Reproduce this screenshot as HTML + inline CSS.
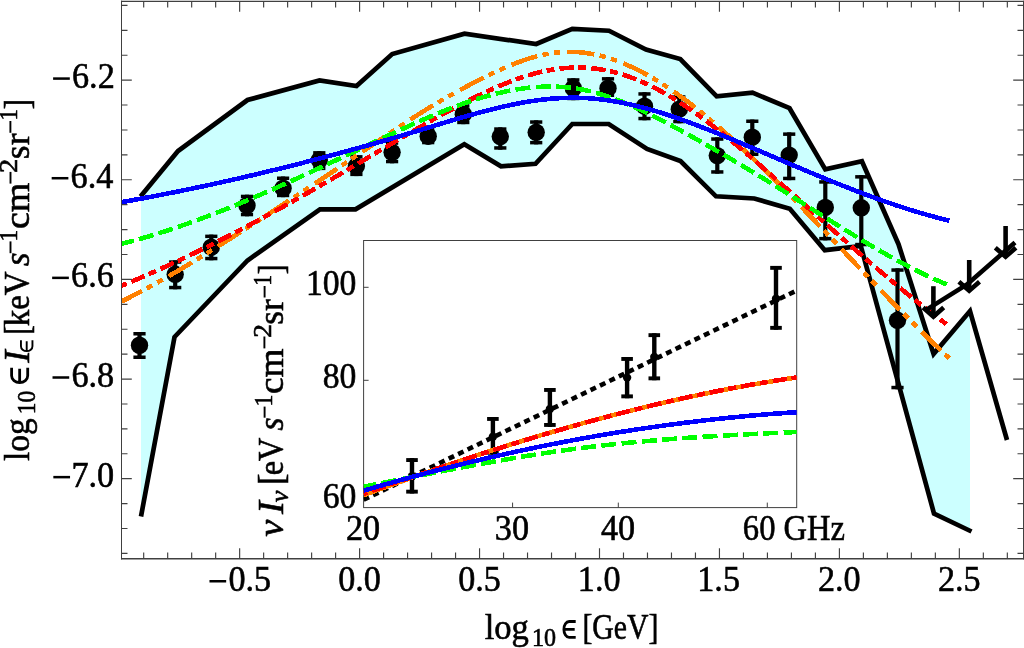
<!DOCTYPE html>
<html><head><meta charset="utf-8"><style>
html,body{margin:0;padding:0;background:#fff;width:1024px;height:648px;overflow:hidden;font-family:"Liberation Serif",serif;}
svg{display:block;will-change:transform;}
</style></head><body>
<svg width="1024" height="648" viewBox="0 0 1024 648"><defs><clipPath id="ic"><rect x="363.6" y="240.5" width="433.1" height="267.1"/></clipPath></defs><rect x="0" y="0" width="1024" height="648" fill="#fff"/>
<polygon points="141.00,195.89 178.00,151.00 247.50,100.00 319.50,80.50 356.50,86.00 392.20,54.00 464.50,33.75 536.20,44.00 572.30,28.90 609.00,30.70 646.00,49.50 680.30,59.00 716.70,96.30 752.50,92.60 789.50,108.20 825.30,169.40 861.90,161.30 898.50,244.20 933.60,354.00 970.00,311.00 970.00,530.78 934.00,513.50 860.80,246.00 824.80,250.20 789.80,208.70 754.30,198.50 716.00,196.30 680.50,161.00 647.00,149.00 608.70,124.00 572.30,124.00 535.50,163.75 501.00,166.30 464.30,144.30 355.50,209.30 320.00,209.30 247.50,260.50 174.50,337.00 141.00,516.50" fill="#ccffff" stroke="none"/>
<polyline points="140.50,196.50 178.00,151.00 247.50,100.00 319.50,80.50 356.50,86.00 392.20,54.00 464.50,33.75 536.20,44.00 572.30,28.90 609.00,30.70 646.00,49.50 680.30,59.00 716.70,96.30 752.50,92.60 789.50,108.20 825.30,169.40 861.90,161.30 898.50,244.20 933.60,354.00 970.00,311.00 1007.00,440.00" fill="none" stroke="#000" stroke-width="4.7" stroke-linejoin="miter"/>
<polyline points="141.00,516.50 174.50,337.00 247.50,260.50 320.00,209.30 355.50,209.30 464.30,144.30 501.00,166.30 535.50,163.75 572.30,124.00 608.70,124.00 647.00,149.00 680.50,161.00 716.00,196.30 754.30,198.50 789.80,208.70 824.80,250.20 860.80,246.00 934.00,513.50 971.50,531.50" fill="none" stroke="#000" stroke-width="4.7" stroke-linejoin="miter"/>
<line x1="139.50" y1="332.00" x2="139.50" y2="359.00" stroke="#000" stroke-width="4.2"/>
<rect x="133.40" y="332.00" width="12.2" height="3.5" fill="#000"/>
<rect x="133.40" y="355.50" width="12.2" height="3.5" fill="#000"/>
<circle cx="139.50" cy="345.25" r="8.7" fill="#000"/>
<line x1="175.20" y1="260.30" x2="175.20" y2="289.30" stroke="#000" stroke-width="4.2"/>
<rect x="169.10" y="260.30" width="12.2" height="3.5" fill="#000"/>
<rect x="169.10" y="285.80" width="12.2" height="3.5" fill="#000"/>
<circle cx="175.20" cy="274.30" r="8.7" fill="#000"/>
<line x1="211.30" y1="234.60" x2="211.30" y2="260.30" stroke="#000" stroke-width="4.2"/>
<rect x="205.20" y="234.60" width="12.2" height="3.5" fill="#000"/>
<rect x="205.20" y="256.80" width="12.2" height="3.5" fill="#000"/>
<circle cx="211.30" cy="247.20" r="8.7" fill="#000"/>
<line x1="247.00" y1="194.70" x2="247.00" y2="216.30" stroke="#000" stroke-width="4.2"/>
<rect x="240.90" y="194.70" width="12.2" height="3.5" fill="#000"/>
<rect x="240.90" y="212.80" width="12.2" height="3.5" fill="#000"/>
<circle cx="247.00" cy="205.50" r="8.7" fill="#000"/>
<line x1="283.10" y1="176.50" x2="283.10" y2="197.20" stroke="#000" stroke-width="4.2"/>
<rect x="277.00" y="176.50" width="12.2" height="3.5" fill="#000"/>
<rect x="277.00" y="193.70" width="12.2" height="3.5" fill="#000"/>
<circle cx="283.10" cy="188.20" r="8.7" fill="#000"/>
<line x1="319.30" y1="151.10" x2="319.30" y2="170.10" stroke="#000" stroke-width="4.2"/>
<rect x="313.20" y="151.10" width="12.2" height="3.5" fill="#000"/>
<rect x="313.20" y="166.60" width="12.2" height="3.5" fill="#000"/>
<circle cx="319.30" cy="160.10" r="8.7" fill="#000"/>
<line x1="356.40" y1="155.10" x2="356.40" y2="176.10" stroke="#000" stroke-width="4.2"/>
<rect x="350.30" y="155.10" width="12.2" height="3.5" fill="#000"/>
<rect x="350.30" y="172.60" width="12.2" height="3.5" fill="#000"/>
<circle cx="356.40" cy="166.10" r="8.7" fill="#000"/>
<line x1="392.10" y1="141.30" x2="392.10" y2="163.30" stroke="#000" stroke-width="4.2"/>
<rect x="386.00" y="141.30" width="12.2" height="3.5" fill="#000"/>
<rect x="386.00" y="159.80" width="12.2" height="3.5" fill="#000"/>
<circle cx="392.10" cy="152.30" r="8.7" fill="#000"/>
<line x1="428.20" y1="128.10" x2="428.20" y2="144.30" stroke="#000" stroke-width="4.2"/>
<rect x="422.10" y="128.10" width="12.2" height="3.5" fill="#000"/>
<rect x="422.10" y="140.80" width="12.2" height="3.5" fill="#000"/>
<circle cx="428.20" cy="136.20" r="8.7" fill="#000"/>
<line x1="463.30" y1="104.20" x2="463.30" y2="124.20" stroke="#000" stroke-width="4.2"/>
<rect x="457.20" y="104.20" width="12.2" height="3.5" fill="#000"/>
<rect x="457.20" y="120.70" width="12.2" height="3.5" fill="#000"/>
<circle cx="463.30" cy="114.20" r="8.7" fill="#000"/>
<line x1="500.30" y1="127.30" x2="500.30" y2="149.70" stroke="#000" stroke-width="4.2"/>
<rect x="494.20" y="127.30" width="12.2" height="3.5" fill="#000"/>
<rect x="494.20" y="146.20" width="12.2" height="3.5" fill="#000"/>
<circle cx="500.30" cy="136.60" r="8.7" fill="#000"/>
<line x1="536.20" y1="120.30" x2="536.20" y2="144.40" stroke="#000" stroke-width="4.2"/>
<rect x="530.10" y="120.30" width="12.2" height="3.5" fill="#000"/>
<rect x="530.10" y="140.90" width="12.2" height="3.5" fill="#000"/>
<circle cx="536.20" cy="132.30" r="8.7" fill="#000"/>
<line x1="573.30" y1="78.20" x2="573.30" y2="100.20" stroke="#000" stroke-width="4.2"/>
<rect x="567.20" y="78.20" width="12.2" height="3.5" fill="#000"/>
<rect x="567.20" y="96.70" width="12.2" height="3.5" fill="#000"/>
<circle cx="573.30" cy="88.20" r="8.7" fill="#000"/>
<line x1="608.00" y1="77.10" x2="608.00" y2="97.00" stroke="#000" stroke-width="4.2"/>
<rect x="601.90" y="77.10" width="12.2" height="3.5" fill="#000"/>
<rect x="601.90" y="93.50" width="12.2" height="3.5" fill="#000"/>
<circle cx="608.00" cy="88.20" r="8.7" fill="#000"/>
<line x1="644.50" y1="92.20" x2="644.50" y2="120.30" stroke="#000" stroke-width="4.2"/>
<rect x="638.40" y="92.20" width="12.2" height="3.5" fill="#000"/>
<rect x="638.40" y="116.80" width="12.2" height="3.5" fill="#000"/>
<circle cx="644.50" cy="106.20" r="8.7" fill="#000"/>
<line x1="679.30" y1="95.20" x2="679.30" y2="123.30" stroke="#000" stroke-width="4.2"/>
<rect x="673.20" y="95.20" width="12.2" height="3.5" fill="#000"/>
<rect x="673.20" y="119.80" width="12.2" height="3.5" fill="#000"/>
<circle cx="679.30" cy="109.20" r="8.7" fill="#000"/>
<line x1="717.30" y1="137.30" x2="717.30" y2="173.70" stroke="#000" stroke-width="4.2"/>
<rect x="711.20" y="137.30" width="12.2" height="3.5" fill="#000"/>
<rect x="711.20" y="170.20" width="12.2" height="3.5" fill="#000"/>
<circle cx="717.30" cy="155.60" r="8.7" fill="#000"/>
<line x1="752.30" y1="119.50" x2="752.30" y2="156.00" stroke="#000" stroke-width="4.2"/>
<rect x="746.20" y="119.50" width="12.2" height="3.5" fill="#000"/>
<rect x="746.20" y="152.50" width="12.2" height="3.5" fill="#000"/>
<circle cx="752.30" cy="137.20" r="8.7" fill="#000"/>
<line x1="789.20" y1="132.40" x2="789.20" y2="180.20" stroke="#000" stroke-width="4.2"/>
<rect x="783.10" y="132.40" width="12.2" height="3.5" fill="#000"/>
<rect x="783.10" y="176.70" width="12.2" height="3.5" fill="#000"/>
<circle cx="789.20" cy="155.10" r="8.7" fill="#000"/>
<line x1="825.30" y1="180.20" x2="825.30" y2="240.40" stroke="#000" stroke-width="4.2"/>
<rect x="819.20" y="180.20" width="12.2" height="3.5" fill="#000"/>
<rect x="819.20" y="236.90" width="12.2" height="3.5" fill="#000"/>
<circle cx="825.30" cy="207.40" r="8.7" fill="#000"/>
<line x1="861.30" y1="175.10" x2="861.30" y2="246.30" stroke="#000" stroke-width="4.2"/>
<rect x="855.20" y="175.10" width="12.2" height="3.5" fill="#000"/>
<rect x="855.20" y="242.80" width="12.2" height="3.5" fill="#000"/>
<circle cx="861.30" cy="207.80" r="8.7" fill="#000"/>
<line x1="897.50" y1="268.30" x2="897.50" y2="389.30" stroke="#000" stroke-width="4.2"/>
<rect x="891.40" y="268.30" width="12.2" height="3.5" fill="#000"/>
<rect x="891.40" y="385.80" width="12.2" height="3.5" fill="#000"/>
<circle cx="897.50" cy="320.30" r="8.7" fill="#000"/>
<polyline points="121.50,301.44 124.96,299.73 128.43,297.99 131.89,296.24 135.36,294.45 138.82,292.64 142.29,290.81 145.75,288.96 149.22,287.09 152.68,285.19 156.14,283.27 159.61,281.33 163.07,279.38 166.54,277.40 170.00,275.41 173.47,273.40 176.93,271.37 180.40,269.33 183.86,267.27 187.32,265.20 190.79,263.12 194.25,261.02 197.72,258.91 201.18,256.78 204.65,254.65 208.11,252.50 211.58,250.35 215.04,248.18 218.50,246.01 221.97,243.83 225.43,241.64 228.90,239.45 232.36,237.25 235.83,235.04 239.29,232.83 242.76,230.62 246.22,228.40 249.68,226.18 253.15,223.95 256.61,221.71 260.08,219.48 263.54,217.23 267.01,214.99 270.47,212.74 273.94,210.48 277.40,208.22 280.86,205.96 284.33,203.69 287.79,201.42 291.26,199.14 294.72,196.86 298.19,194.58 301.65,192.29 305.12,190.00 308.58,187.71 312.04,185.41 315.51,183.11 318.97,180.80 322.44,178.49 325.90,176.18 329.37,173.87 332.83,171.55 336.29,169.23 339.76,166.90 343.22,164.58 346.69,162.25 350.15,159.91 353.62,157.58 357.08,155.24 360.55,152.90 364.01,150.55 367.47,148.21 370.94,145.86 374.40,143.51 377.87,141.16 381.33,138.82 384.80,136.48 388.26,134.15 391.73,131.82 395.19,129.51 398.65,127.21 402.12,124.92 405.58,122.65 409.05,120.40 412.51,118.16 415.98,115.95 419.44,113.76 422.91,111.59 426.37,109.46 429.83,107.34 433.30,105.26 436.76,103.20 440.23,101.17 443.69,99.16 447.16,97.17 450.62,95.21 454.09,93.28 457.55,91.37 461.01,89.48 464.48,87.61 467.94,85.76 471.41,83.93 474.87,82.13 478.34,80.34 481.80,78.58 485.27,76.84 488.73,75.13 492.19,73.45 495.66,71.81 499.12,70.21 502.59,68.65 506.05,67.14 509.52,65.68 512.98,64.27 516.45,62.92 519.91,61.63 523.37,60.41 526.84,59.25 530.30,58.16 533.77,57.14 537.23,56.20 540.70,55.35 544.16,54.58 547.63,53.89 551.09,53.30 554.55,52.80 558.02,52.40 561.48,52.10 564.95,51.91 568.41,51.83 571.88,51.84 575.34,51.96 578.81,52.19 582.27,52.51 585.73,52.93 589.20,53.45 592.66,54.06 596.13,54.76 599.59,55.56 603.06,56.45 606.52,57.42 609.99,58.49 613.45,59.63 616.91,60.87 620.38,62.18 623.84,63.57 627.31,65.04 630.77,66.59 634.24,68.22 637.70,69.92 641.17,71.69 644.63,73.53 648.09,75.44 651.56,77.42 655.02,79.47 658.49,81.58 661.95,83.75 665.42,85.98 668.88,88.27 672.35,90.62 675.81,93.03 679.27,95.50 682.74,98.01 686.20,100.58 689.67,103.21 693.13,105.88 696.60,108.60 700.06,111.37 703.53,114.18 706.99,117.04 710.45,119.94 713.92,122.88 717.38,125.87 720.85,128.89 724.31,131.95 727.78,135.04 731.24,138.18 734.71,141.34 738.17,144.54 741.63,147.77 745.10,151.02 748.56,154.31 752.03,157.62 755.49,160.95 758.96,164.31 762.42,167.70 765.88,171.10 769.35,174.53 772.81,177.97 776.28,181.44 779.74,184.92 783.21,188.42 786.67,191.93 790.14,195.47 793.60,199.01 797.06,202.57 800.53,206.14 803.99,209.72 807.46,213.32 810.92,216.92 814.39,220.53 817.85,224.15 821.32,227.78 824.78,231.42 828.24,235.05 831.71,238.70 835.17,242.34 838.64,245.99 842.10,249.64 845.57,253.29 849.03,256.94 852.50,260.59 855.96,264.24 859.42,267.88 862.89,271.52 866.35,275.16 869.82,278.79 873.28,282.41 876.75,286.02 880.21,289.63 883.68,293.23 887.14,296.81 890.60,300.39 894.07,303.95 897.53,307.50 901.00,311.03 904.46,314.55 907.93,318.06 911.39,321.55 914.86,325.01 918.32,328.47 921.78,331.90 925.25,335.31 928.71,338.70 932.18,342.06 935.64,345.41 939.11,348.73 942.57,352.02 946.04,355.29 949.50,358.53" fill="none" shape-rendering="crispEdges" stroke="#ff8000" stroke-width="4.6" stroke-dasharray="27 5.5 6.3 5.5 6.3 7" stroke-dashoffset="4"/>
<polyline points="121.50,285.74 124.95,284.32 128.40,282.88 131.85,281.43 135.31,279.97 138.76,278.50 142.21,277.01 145.66,275.51 149.11,274.00 152.56,272.47 156.01,270.93 159.47,269.38 162.92,267.82 166.37,266.24 169.82,264.66 173.27,263.06 176.72,261.45 180.17,259.83 183.63,258.19 187.08,256.55 190.53,254.89 193.98,253.23 197.43,251.55 200.88,249.86 204.34,248.16 207.79,246.45 211.24,244.73 214.69,243.00 218.14,241.26 221.59,239.51 225.04,237.74 228.50,235.97 231.95,234.19 235.40,232.40 238.85,230.60 242.30,228.79 245.75,226.97 249.20,225.15 252.66,223.31 256.11,221.46 259.56,219.61 263.01,217.75 266.46,215.87 269.91,213.99 273.36,212.11 276.82,210.21 280.27,208.31 283.72,206.39 287.17,204.47 290.62,202.55 294.07,200.61 297.52,198.67 300.98,196.72 304.43,194.76 307.88,192.80 311.33,190.83 314.78,188.85 318.23,186.87 321.68,184.87 325.14,182.88 328.59,180.87 332.04,178.87 335.49,176.85 338.94,174.83 342.39,172.80 345.85,170.77 349.30,168.73 352.75,166.69 356.20,164.64 359.65,162.60 363.10,160.55 366.55,158.49 370.01,156.44 373.46,154.39 376.91,152.34 380.36,150.29 383.81,148.24 387.26,146.19 390.71,144.15 394.17,142.11 397.62,140.08 401.07,138.05 404.52,136.03 407.97,134.02 411.42,132.01 414.87,130.01 418.33,128.02 421.78,126.04 425.23,124.08 428.68,122.12 432.13,120.17 435.58,118.24 439.03,116.32 442.49,114.41 445.94,112.52 449.39,110.65 452.84,108.79 456.29,106.94 459.74,105.12 463.19,103.31 466.65,101.53 470.10,99.76 473.55,98.02 477.00,96.31 480.45,94.63 483.90,92.97 487.36,91.35 490.81,89.77 494.26,88.22 497.71,86.71 501.16,85.24 504.61,83.82 508.06,82.44 511.52,81.11 514.97,79.83 518.42,78.60 521.87,77.42 525.32,76.30 528.77,75.23 532.22,74.23 535.68,73.29 539.13,72.41 542.58,71.60 546.03,70.85 549.48,70.18 552.93,69.58 556.38,69.05 559.84,68.60 563.29,68.23 566.74,67.93 570.19,67.72 573.64,67.60 577.09,67.55 580.54,67.59 584.00,67.70 587.45,67.90 590.90,68.18 594.35,68.54 597.80,68.99 601.25,69.51 604.71,70.12 608.16,70.81 611.61,71.58 615.06,72.43 618.51,73.37 621.96,74.38 625.41,75.48 628.87,76.65 632.32,77.91 635.77,79.25 639.22,80.67 642.67,82.16 646.12,83.73 649.57,85.36 653.03,87.07 656.48,88.85 659.93,90.70 663.38,92.61 666.83,94.58 670.28,96.62 673.73,98.71 677.19,100.86 680.64,103.07 684.09,105.33 687.54,107.64 690.99,110.00 694.44,112.41 697.89,114.87 701.35,117.38 704.80,119.92 708.25,122.51 711.70,125.14 715.15,127.81 718.60,130.51 722.05,133.25 725.51,136.03 728.96,138.83 732.41,141.66 735.86,144.52 739.31,147.41 742.76,150.32 746.22,153.26 749.67,156.21 753.12,159.19 756.57,162.18 760.02,165.19 763.47,168.22 766.92,171.25 770.38,174.30 773.83,177.35 777.28,180.42 780.73,183.48 784.18,186.56 787.63,189.63 791.08,192.71 794.54,195.80 797.99,198.88 801.44,201.96 804.89,205.05 808.34,208.14 811.79,211.22 815.24,214.30 818.70,217.39 822.15,220.46 825.60,223.54 829.05,226.61 832.50,229.68 835.95,232.74 839.40,235.80 842.86,238.85 846.31,241.89 849.76,244.93 853.21,247.95 856.66,250.97 860.11,253.98 863.56,256.98 867.02,259.97 870.47,262.94 873.92,265.91 877.37,268.86 880.82,271.80 884.27,274.72 887.73,277.63 891.18,280.52 894.63,283.40 898.08,286.26 901.53,289.11 904.98,291.94 908.43,294.74 911.89,297.53 915.34,300.30 918.79,303.05 922.24,305.78 925.69,308.49 929.14,311.17 932.59,313.84 936.05,316.47 939.50,319.09 942.95,321.68 946.40,324.24" fill="none" shape-rendering="crispEdges" stroke="#ff0000" stroke-width="4.6" stroke-dasharray="14.5 4.5 8 5" stroke-dashoffset="21.5"/>
<polyline points="121.50,243.90 124.96,243.01 128.43,242.10 131.89,241.17 135.36,240.21 138.82,239.24 142.29,238.25 145.75,237.24 149.22,236.21 152.68,235.16 156.14,234.09 159.61,233.01 163.07,231.90 166.54,230.78 170.00,229.65 173.47,228.49 176.93,227.32 180.40,226.13 183.86,224.92 187.32,223.70 190.79,222.47 194.25,221.21 197.72,219.95 201.18,218.66 204.65,217.37 208.11,216.06 211.58,214.73 215.04,213.39 218.50,212.04 221.97,210.67 225.43,209.30 228.90,207.91 232.36,206.50 235.83,205.09 239.29,203.66 242.76,202.22 246.22,200.77 249.68,199.31 253.15,197.84 256.61,196.36 260.08,194.87 263.54,193.37 267.01,191.86 270.47,190.34 273.94,188.81 277.40,187.27 280.86,185.72 284.33,184.17 287.79,182.61 291.26,181.04 294.72,179.46 298.19,177.88 301.65,176.29 305.12,174.69 308.58,173.09 312.04,171.49 315.51,169.87 318.97,168.26 322.44,166.63 325.90,165.01 329.37,163.38 332.83,161.75 336.29,160.12 339.76,158.48 343.22,156.84 346.69,155.21 350.15,153.57 353.62,151.93 357.08,150.29 360.55,148.65 364.01,147.01 367.47,145.37 370.94,143.73 374.40,142.10 377.87,140.46 381.33,138.84 384.80,137.21 388.26,135.59 391.73,133.97 395.19,132.35 398.65,130.75 402.12,129.15 405.58,127.56 409.05,125.98 412.51,124.42 415.98,122.86 419.44,121.32 422.91,119.80 426.37,118.29 429.83,116.81 433.30,115.34 436.76,113.89 440.23,112.47 443.69,111.07 447.16,109.69 450.62,108.34 454.09,107.02 457.55,105.73 461.01,104.47 464.48,103.24 467.94,102.04 471.41,100.88 474.87,99.75 478.34,98.66 481.80,97.60 485.27,96.59 488.73,95.62 492.19,94.69 495.66,93.80 499.12,92.96 502.59,92.16 506.05,91.41 509.52,90.71 512.98,90.06 516.45,89.46 519.91,88.92 523.37,88.42 526.84,87.99 530.30,87.61 533.77,87.28 537.23,87.02 540.70,86.82 544.16,86.67 547.63,86.60 551.09,86.58 554.55,86.63 558.02,86.75 561.48,86.94 564.95,87.20 568.41,87.52 571.88,87.92 575.34,88.40 578.81,88.95 582.27,89.57 585.73,90.27 589.20,91.05 592.66,91.91 596.13,92.83 599.59,93.83 603.06,94.89 606.52,96.01 609.99,97.20 613.45,98.45 616.91,99.75 620.38,101.10 623.84,102.50 627.31,103.96 630.77,105.45 634.24,106.99 637.70,108.57 641.17,110.19 644.63,111.84 648.09,113.53 651.56,115.24 655.02,116.98 658.49,118.74 661.95,120.53 665.42,122.33 668.88,124.15 672.35,125.99 675.81,127.85 679.27,129.72 682.74,131.61 686.20,133.51 689.67,135.42 693.13,137.35 696.60,139.28 700.06,141.22 703.53,143.18 706.99,145.14 710.45,147.11 713.92,149.10 717.38,151.09 720.85,153.09 724.31,155.10 727.78,157.13 731.24,159.16 734.71,161.20 738.17,163.25 741.63,165.31 745.10,167.39 748.56,169.47 752.03,171.56 755.49,173.66 758.96,175.77 762.42,177.90 765.88,180.02 769.35,182.16 772.81,184.31 776.28,186.46 779.74,188.63 783.21,190.80 786.67,192.97 790.14,195.15 793.60,197.34 797.06,199.53 800.53,201.73 803.99,203.93 807.46,206.12 810.92,208.32 814.39,210.52 817.85,212.72 821.32,214.91 824.78,217.10 828.24,219.29 831.71,221.47 835.17,223.64 838.64,225.81 842.10,227.97 845.57,230.12 849.03,232.26 852.50,234.39 855.96,236.51 859.42,238.61 862.89,240.70 866.35,242.77 869.82,244.83 873.28,246.88 876.75,248.90 880.21,250.91 883.68,252.89 887.14,254.86 890.60,256.81 894.07,258.73 897.53,260.63 901.00,262.50 904.46,264.35 907.93,266.17 911.39,267.97 914.86,269.74 918.32,271.47 921.78,273.18 925.25,274.86 928.71,276.51 932.18,278.12 935.64,279.70 939.11,281.24 942.57,282.75 946.04,284.22 949.50,285.66" fill="none" shape-rendering="crispEdges" stroke="#00ff00" stroke-width="4.6" stroke-dasharray="15 5.3" stroke-dashoffset="2.2"/>
<polyline points="121.50,202.17 124.96,201.56 128.43,200.94 131.89,200.31 135.36,199.68 138.82,199.04 142.28,198.40 145.75,197.75 149.21,197.10 152.68,196.44 156.14,195.78 159.60,195.11 163.07,194.43 166.53,193.75 170.00,193.07 173.46,192.38 176.92,191.68 180.39,190.98 183.85,190.27 187.32,189.56 190.78,188.84 194.24,188.12 197.71,187.39 201.17,186.66 204.64,185.92 208.10,185.17 211.56,184.42 215.03,183.67 218.49,182.91 221.96,182.14 225.42,181.37 228.88,180.59 232.35,179.81 235.81,179.03 239.28,178.24 242.74,177.44 246.20,176.64 249.67,175.83 253.13,175.02 256.60,174.20 260.06,173.38 263.52,172.55 266.99,171.72 270.45,170.88 273.92,170.04 277.38,169.19 280.84,168.34 284.31,167.48 287.77,166.62 291.24,165.75 294.70,164.88 298.16,164.00 301.63,163.12 305.09,162.23 308.56,161.34 312.02,160.44 315.48,159.54 318.95,158.64 322.41,157.72 325.88,156.81 329.34,155.89 332.81,154.96 336.27,154.03 339.73,153.09 343.20,152.15 346.66,151.21 350.13,150.26 353.59,149.30 357.05,148.34 360.52,147.38 363.98,146.41 367.45,145.44 370.91,144.46 374.37,143.48 377.84,142.49 381.30,141.50 384.77,140.50 388.23,139.50 391.69,138.49 395.16,137.48 398.62,136.47 402.09,135.45 405.55,134.42 409.01,133.39 412.48,132.36 415.94,131.32 419.41,130.28 422.87,129.23 426.33,128.18 429.80,127.13 433.26,126.08 436.73,125.02 440.19,123.97 443.65,122.92 447.12,121.88 450.58,120.84 454.05,119.81 457.51,118.78 460.97,117.77 464.44,116.76 467.90,115.77 471.37,114.79 474.83,113.82 478.29,112.87 481.76,111.94 485.22,111.02 488.69,110.13 492.15,109.25 495.61,108.40 499.08,107.57 502.54,106.76 506.01,105.98 509.47,105.23 512.93,104.50 516.40,103.81 519.86,103.15 523.33,102.51 526.79,101.91 530.25,101.35 533.72,100.82 537.18,100.33 540.65,99.88 544.11,99.47 547.57,99.09 551.04,98.76 554.50,98.48 557.97,98.24 561.43,98.04 564.89,97.90 568.36,97.80 571.82,97.75 575.29,97.75 578.75,97.80 582.21,97.91 585.68,98.07 589.14,98.29 592.61,98.56 596.07,98.87 599.53,99.24 603.00,99.65 606.46,100.11 609.93,100.62 613.39,101.17 616.85,101.77 620.32,102.41 623.78,103.09 627.25,103.81 630.71,104.57 634.17,105.37 637.64,106.21 641.10,107.09 644.57,107.99 648.03,108.94 651.49,109.91 654.96,110.92 658.42,111.96 661.89,113.03 665.35,114.13 668.81,115.25 672.28,116.41 675.74,117.58 679.21,118.79 682.67,120.01 686.13,121.26 689.60,122.53 693.06,123.82 696.53,125.13 699.99,126.45 703.45,127.80 706.92,129.15 710.38,130.53 713.85,131.91 717.31,133.31 720.77,134.73 724.24,136.15 727.70,137.58 731.17,139.02 734.63,140.46 738.09,141.91 741.56,143.37 745.02,144.83 748.49,146.30 751.95,147.76 755.42,149.23 758.88,150.71 762.34,152.18 765.81,153.66 769.27,155.13 772.74,156.61 776.20,158.08 779.66,159.56 783.13,161.03 786.59,162.50 790.06,163.97 793.52,165.44 796.98,166.90 800.45,168.36 803.91,169.82 807.38,171.27 810.84,172.72 814.30,174.16 817.77,175.59 821.23,177.02 824.70,178.44 828.16,179.85 831.62,181.25 835.09,182.65 838.55,184.04 842.02,185.41 845.48,186.78 848.94,188.13 852.41,189.48 855.87,190.81 859.34,192.13 862.80,193.44 866.26,194.74 869.73,196.02 873.19,197.29 876.66,198.54 880.12,199.78 883.58,201.01 887.05,202.21 890.51,203.40 893.98,204.58 897.44,205.73 900.90,206.87 904.37,207.99 907.83,209.09 911.30,210.17 914.76,211.24 918.22,212.28 921.69,213.30 925.15,214.30 928.62,215.27 932.08,216.23 935.54,217.16 939.01,218.07 942.47,218.95 945.94,219.81 949.40,220.65" fill="none" shape-rendering="crispEdges" stroke="#0000ff" stroke-width="4.6"/>
<polyline points="925,310.6 967,284.5 1015,242.4" fill="none" stroke="#000" stroke-width="4.6"/>
<line x1="933.40" y1="286.20" x2="933.40" y2="314.60" stroke="#000" stroke-width="4.6"/>
<polyline points="923.10,307.60 933.40,316.60 943.70,307.60" fill="none" stroke="#000" stroke-width="4.6" stroke-linejoin="miter"/>
<line x1="969.20" y1="260.00" x2="969.20" y2="288.70" stroke="#000" stroke-width="4.6"/>
<polyline points="958.90,281.70 969.20,290.70 979.50,281.70" fill="none" stroke="#000" stroke-width="4.6" stroke-linejoin="miter"/>
<line x1="1005.60" y1="226.00" x2="1005.60" y2="254.70" stroke="#000" stroke-width="4.6"/>
<polyline points="995.30,247.70 1005.60,256.70 1015.90,247.70" fill="none" stroke="#000" stroke-width="4.6" stroke-linejoin="miter"/>
<path d="M121,1.35H1024M121,558.75H1024" stroke="#404040" stroke-width="1.3" fill="none"/>
<path d="M121.5,0.7V559.4M1023.5,0.7V559.4" stroke="#404040" stroke-width="1" fill="none"/>
<path d="M143.69,558.5v-6.0 M143.69,1.5v6.0 M167.68,558.5v-6.0 M167.68,1.5v6.0 M191.67,558.5v-6.0 M191.67,1.5v6.0 M215.66,558.5v-6.0 M215.66,1.5v6.0 M239.65,558.5v-10.3 M239.65,1.5v10.3 M263.64,558.5v-6.0 M263.64,1.5v6.0 M287.63,558.5v-6.0 M287.63,1.5v6.0 M311.62,558.5v-6.0 M311.62,1.5v6.0 M335.61,558.5v-6.0 M335.61,1.5v6.0 M359.60,558.5v-10.3 M359.60,1.5v10.3 M383.59,558.5v-6.0 M383.59,1.5v6.0 M407.58,558.5v-6.0 M407.58,1.5v6.0 M431.57,558.5v-6.0 M431.57,1.5v6.0 M455.56,558.5v-6.0 M455.56,1.5v6.0 M479.55,558.5v-10.3 M479.55,1.5v10.3 M503.54,558.5v-6.0 M503.54,1.5v6.0 M527.53,558.5v-6.0 M527.53,1.5v6.0 M551.52,558.5v-6.0 M551.52,1.5v6.0 M575.51,558.5v-6.0 M575.51,1.5v6.0 M599.50,558.5v-10.3 M599.50,1.5v10.3 M623.49,558.5v-6.0 M623.49,1.5v6.0 M647.48,558.5v-6.0 M647.48,1.5v6.0 M671.47,558.5v-6.0 M671.47,1.5v6.0 M695.46,558.5v-6.0 M695.46,1.5v6.0 M719.45,558.5v-10.3 M719.45,1.5v10.3 M743.44,558.5v-6.0 M743.44,1.5v6.0 M767.43,558.5v-6.0 M767.43,1.5v6.0 M791.42,558.5v-6.0 M791.42,1.5v6.0 M815.41,558.5v-6.0 M815.41,1.5v6.0 M839.40,558.5v-10.3 M839.40,1.5v10.3 M863.39,558.5v-6.0 M863.39,1.5v6.0 M887.38,558.5v-6.0 M887.38,1.5v6.0 M911.37,558.5v-6.0 M911.37,1.5v6.0 M935.36,558.5v-6.0 M935.36,1.5v6.0 M959.35,558.5v-10.3 M959.35,1.5v10.3 M983.34,558.5v-6.0 M983.34,1.5v6.0 M1007.33,558.5v-6.0 M1007.33,1.5v6.0 M121.5,5.40h6.0 M1023.5,5.40h-6.0 M121.5,30.31h6.0 M1023.5,30.31h-6.0 M121.5,55.22h6.0 M1023.5,55.22h-6.0 M121.5,80.13h10.3 M1023.5,80.13h-10.3 M121.5,105.04h6.0 M1023.5,105.04h-6.0 M121.5,129.95h6.0 M1023.5,129.95h-6.0 M121.5,154.86h6.0 M1023.5,154.86h-6.0 M121.5,179.77h10.3 M1023.5,179.77h-10.3 M121.5,204.68h6.0 M1023.5,204.68h-6.0 M121.5,229.59h6.0 M1023.5,229.59h-6.0 M121.5,254.50h6.0 M1023.5,254.50h-6.0 M121.5,279.41h10.3 M1023.5,279.41h-10.3 M121.5,304.32h6.0 M1023.5,304.32h-6.0 M121.5,329.23h6.0 M1023.5,329.23h-6.0 M121.5,354.14h6.0 M1023.5,354.14h-6.0 M121.5,379.05h10.3 M1023.5,379.05h-10.3 M121.5,403.96h6.0 M1023.5,403.96h-6.0 M121.5,428.87h6.0 M1023.5,428.87h-6.0 M121.5,453.78h6.0 M1023.5,453.78h-6.0 M121.5,478.69h10.3 M1023.5,478.69h-10.3 M121.5,503.60h6.0 M1023.5,503.60h-6.0 M121.5,528.51h6.0 M1023.5,528.51h-6.0 M121.5,553.42h6.0 M1023.5,553.42h-6.0" stroke="#404040" stroke-width="1.15" fill="none"/>
<rect x="53.10" y="77.33" width="16.7" height="2.5" fill="#000"/>
<text transform="translate(71.97,88.13) scale(0.9518,1)" font-family="Liberation Serif" font-size="36" stroke="#000" stroke-width="0.6">6.2</text>
<rect x="51.67" y="176.97" width="16.7" height="2.5" fill="#000"/>
<text transform="translate(70.54,187.77) scale(0.9518,1)" font-family="Liberation Serif" font-size="36" stroke="#000" stroke-width="0.6">6.4</text>
<rect x="52.15" y="276.61" width="16.7" height="2.5" fill="#000"/>
<text transform="translate(71.02,287.41) scale(0.9518,1)" font-family="Liberation Serif" font-size="36" stroke="#000" stroke-width="0.6">6.6</text>
<rect x="52.51" y="376.25" width="16.7" height="2.5" fill="#000"/>
<text transform="translate(71.38,387.05) scale(0.9518,1)" font-family="Liberation Serif" font-size="36" stroke="#000" stroke-width="0.6">6.8</text>
<rect x="53.34" y="475.89" width="16.7" height="2.5" fill="#000"/>
<text transform="translate(71.38,486.69) scale(0.9518,1)" font-family="Liberation Serif" font-size="36" stroke="#000" stroke-width="0.6">7.0</text>
<rect x="209.47" y="580.00" width="16.7" height="2.5" fill="#000"/>
<text transform="translate(228.47,590.80) scale(0.9480,1)" font-family="Liberation Serif" font-size="36" stroke="#000" stroke-width="0.6">0.5</text>
<text transform="translate(338.27,590.80) scale(0.9480,1)" font-family="Liberation Serif" font-size="36" stroke="#000" stroke-width="0.6">0.0</text>
<text transform="translate(458.22,590.80) scale(0.9480,1)" font-family="Liberation Serif" font-size="36" stroke="#000" stroke-width="0.6">0.5</text>
<text transform="translate(577.84,590.80) scale(0.9480,1)" font-family="Liberation Serif" font-size="36" stroke="#000" stroke-width="0.6">1.0</text>
<text transform="translate(697.29,590.80) scale(0.9480,1)" font-family="Liberation Serif" font-size="36" stroke="#000" stroke-width="0.6">1.5</text>
<text transform="translate(817.95,590.80) scale(0.9480,1)" font-family="Liberation Serif" font-size="36" stroke="#000" stroke-width="0.6">2.0</text>
<text transform="translate(937.90,590.80) scale(0.9480,1)" font-family="Liberation Serif" font-size="36" stroke="#000" stroke-width="0.6">2.5</text>
<text transform="translate(484.68,639.20) scale(0.9613,1)" font-family="Liberation Serif" font-size="36" stroke="#000" stroke-width="0.6">log</text>
<text transform="translate(532.08,645.50) scale(0.9438,1)" font-family="Liberation Serif" font-size="25.5" stroke="#000" stroke-width="0.6">10</text>
<path d="M575.70,621.50H569.10A5.20 7.90 0 0 0 569.10,637.30H575.70M563.90,629.40H574.70" fill="none" stroke="#000" stroke-width="2.80"/>
<text transform="translate(582.43,639.20) scale(0.8277,1)" font-family="Liberation Serif" font-size="36" stroke="#000" stroke-width="0.6">[GeV]</text>
<text transform="rotate(-90) translate(-460.99,29.00) scale(0.9255,1)" font-family="Liberation Serif" font-size="36" stroke="#000" stroke-width="0.6">log</text>
<text transform="rotate(-90) translate(-414.26,35.20) scale(0.9169,1)" font-family="Liberation Serif" font-size="25.5" stroke="#000" stroke-width="0.6">10</text>
<path d="M-367.80,11.60H-375.85A6.65 8.05 0 0 0 -375.85,27.70H-367.80M-382.50,19.65H-368.80" fill="none" stroke="#000" stroke-width="2.80" transform="rotate(-90)"/>
<text transform="rotate(-90) translate(-362.77,28.60) scale(1.0370,1)" font-family="Liberation Serif" font-size="36" font-style="italic" stroke="#000" stroke-width="0.6">I</text>
<path d="M-340.20,20.95H-346.15A5.00 5.75 0 0 0 -346.15,32.45H-340.20M-351.15,26.70H-341.20" fill="none" stroke="#000" stroke-width="1.90" transform="rotate(-90)"/>
<text transform="rotate(-90) translate(-334.60,29.00) scale(0.7631,1)" font-family="Liberation Serif" font-size="36" stroke="#000" stroke-width="0.6">[</text>
<text transform="rotate(-90) translate(-326.17,29.00) scale(0.9136,1)" font-family="Liberation Serif" font-size="36" stroke="#000" stroke-width="0.6">keV</text>
<text transform="rotate(-90) translate(-265.88,28.60) scale(0.9616,1)" font-family="Liberation Serif" font-size="36" font-style="italic" stroke="#000" stroke-width="0.6">s</text>
<rect x="9.55" y="241.40" width="1.9" height="11.80" fill="#000"/>
<text transform="rotate(-90) translate(-241.59,17.00) scale(0.9352,1)" font-family="Liberation Serif" font-size="25" stroke="#000" stroke-width="0.6">1</text>
<text transform="rotate(-90) translate(-229.05,29.00) scale(1.0516,1)" font-family="Liberation Serif" font-size="36" stroke="#000" stroke-width="0.6">cm</text>
<rect x="9.55" y="171.90" width="1.9" height="11.70" fill="#000"/>
<text transform="rotate(-90) translate(-172.88,17.00) scale(1.1400,1)" font-family="Liberation Serif" font-size="25" stroke="#000" stroke-width="0.6">2</text>
<text transform="rotate(-90) translate(-159.18,29.00) scale(0.9865,1)" font-family="Liberation Serif" font-size="36" stroke="#000" stroke-width="0.6">sr</text>
<rect x="9.45" y="121.00" width="1.9" height="11.80" fill="#000"/>
<text transform="rotate(-90) translate(-120.52,17.00) scale(0.9014,1)" font-family="Liberation Serif" font-size="25" stroke="#000" stroke-width="0.6">1</text>
<text transform="rotate(-90) translate(-109.26,29.00) scale(0.8492,1)" font-family="Liberation Serif" font-size="36" stroke="#000" stroke-width="0.6">]</text>
<rect x="363.6" y="240.5" width="433.1" height="267.1" fill="#fff" stroke="#404040" stroke-width="1"/>
<path d="M512.59,507.60v-5 M618.30,507.60v-5 M767.29,507.60v-5 M363.60,287.30h5 M363.60,380.30h5" stroke="#404040" stroke-width="1" fill="none"/>
<text transform="translate(305.90,295.20) scale(0.9350,1)" font-family="Liberation Serif" font-size="36" stroke="#000" stroke-width="0.6">100</text>
<text transform="translate(322.73,388.20) scale(0.9350,1)" font-family="Liberation Serif" font-size="36" stroke="#000" stroke-width="0.6">80</text>
<text transform="translate(322.73,508.00) scale(0.9350,1)" font-family="Liberation Serif" font-size="36" stroke="#000" stroke-width="0.6">60</text>
<text transform="translate(345.88,540.00) scale(0.9500,1)" font-family="Liberation Serif" font-size="36" stroke="#000" stroke-width="0.6">20</text>
<text transform="translate(494.81,540.00) scale(0.9500,1)" font-family="Liberation Serif" font-size="36" stroke="#000" stroke-width="0.6">30</text>
<text transform="translate(600.99,540.00) scale(0.9500,1)" font-family="Liberation Serif" font-size="36" stroke="#000" stroke-width="0.6">40</text>
<text transform="translate(742.84,540.00) scale(0.9050,1)" font-family="Liberation Serif" font-size="36" stroke="#000" stroke-width="0.6">60 GHz</text>
<text transform="rotate(-90) translate(-536.84,282.80) scale(1.0710,1)" font-family="Liberation Serif" font-size="36" font-style="italic" stroke="#000" stroke-width="0.6">ν</text>
<text transform="rotate(-90) translate(-514.07,282.80) scale(1.0667,1)" font-family="Liberation Serif" font-size="36" font-style="italic" stroke="#000" stroke-width="0.6">I</text>
<text transform="rotate(-90) translate(-502.28,287.90) scale(1.0067,1)" font-family="Liberation Serif" font-size="26" font-style="italic" stroke="#000" stroke-width="0.6">ν</text>
<text transform="rotate(-90) translate(-484.89,282.80) scale(0.9477,1)" font-family="Liberation Serif" font-size="36" stroke="#000" stroke-width="0.6">[</text>
<text transform="rotate(-90) translate(-475.23,282.80) scale(0.8944,1)" font-family="Liberation Serif" font-size="36" stroke="#000" stroke-width="0.6">eV</text>
<text transform="rotate(-90) translate(-430.46,282.70) scale(0.9293,1)" font-family="Liberation Serif" font-size="36" font-style="italic" stroke="#000" stroke-width="0.6">s</text>
<rect x="263.65" y="406.60" width="1.9" height="11.10" fill="#000"/>
<text transform="rotate(-90) translate(-406.54,271.60) scale(0.9577,1)" font-family="Liberation Serif" font-size="25" stroke="#000" stroke-width="0.6">1</text>
<text transform="rotate(-90) translate(-394.02,282.80) scale(1.0350,1)" font-family="Liberation Serif" font-size="36" stroke="#000" stroke-width="0.6">cm</text>
<rect x="263.45" y="336.50" width="1.9" height="11.90" fill="#000"/>
<text transform="rotate(-90) translate(-337.74,271.20) scale(1.1000,1)" font-family="Liberation Serif" font-size="25" stroke="#000" stroke-width="0.6">2</text>
<text transform="rotate(-90) translate(-324.77,282.80) scale(0.9824,1)" font-family="Liberation Serif" font-size="36" stroke="#000" stroke-width="0.6">sr</text>
<rect x="263.65" y="286.00" width="1.9" height="11.50" fill="#000"/>
<text transform="rotate(-90) translate(-285.84,271.20) scale(0.8676,1)" font-family="Liberation Serif" font-size="25" stroke="#000" stroke-width="0.6">1</text>
<text transform="rotate(-90) translate(-274.22,282.80) scale(0.8123,1)" font-family="Liberation Serif" font-size="36" stroke="#000" stroke-width="0.6">]</text>
<g clip-path="url(#ic)">
<line x1="412.00" y1="458.10" x2="412.00" y2="493.60" stroke="#000" stroke-width="4.4"/>
<rect x="406.20" y="458.10" width="11.6" height="3.9" fill="#000"/>
<rect x="406.20" y="489.70" width="11.6" height="3.9" fill="#000"/>
<circle cx="412.00" cy="476.25" r="4.2" fill="#000"/>
<line x1="492.90" y1="417.00" x2="492.90" y2="454.70" stroke="#000" stroke-width="4.4"/>
<rect x="487.10" y="417.00" width="11.6" height="3.9" fill="#000"/>
<rect x="487.10" y="450.80" width="11.6" height="3.9" fill="#000"/>
<circle cx="492.90" cy="436.80" r="4.2" fill="#000"/>
<line x1="549.90" y1="388.00" x2="549.90" y2="426.90" stroke="#000" stroke-width="4.4"/>
<rect x="544.10" y="388.00" width="11.6" height="3.9" fill="#000"/>
<rect x="544.10" y="423.00" width="11.6" height="3.9" fill="#000"/>
<circle cx="549.90" cy="409.00" r="4.2" fill="#000"/>
<line x1="627.10" y1="357.00" x2="627.10" y2="398.30" stroke="#000" stroke-width="4.4"/>
<rect x="621.30" y="357.00" width="11.6" height="3.9" fill="#000"/>
<rect x="621.30" y="394.40" width="11.6" height="3.9" fill="#000"/>
<circle cx="627.10" cy="377.60" r="4.2" fill="#000"/>
<line x1="654.30" y1="333.20" x2="654.30" y2="380.30" stroke="#000" stroke-width="4.4"/>
<rect x="648.50" y="333.20" width="11.6" height="3.9" fill="#000"/>
<rect x="648.50" y="376.40" width="11.6" height="3.9" fill="#000"/>
<circle cx="654.30" cy="357.00" r="4.2" fill="#000"/>
<line x1="776.00" y1="265.90" x2="776.00" y2="329.80" stroke="#000" stroke-width="4.4"/>
<rect x="770.20" y="265.90" width="11.6" height="3.9" fill="#000"/>
<rect x="770.20" y="325.90" width="11.6" height="3.9" fill="#000"/>
<circle cx="776.00" cy="298.70" r="4.2" fill="#000"/>
<line x1="363.6" y1="499.8" x2="796.7" y2="290.5" stroke="#000" stroke-width="4.6" stroke-dasharray="6 4.5"/>
<polyline points="363.60,495.23 365.41,494.55 367.22,493.87 369.04,493.19 370.85,492.51 372.66,491.84 374.47,491.16 376.28,490.49 378.10,489.82 379.91,489.15 381.72,488.48 383.53,487.81 385.35,487.15 387.16,486.48 388.97,485.82 390.78,485.16 392.59,484.50 394.41,483.84 396.22,483.18 398.03,482.52 399.84,481.87 401.65,481.21 403.47,480.56 405.28,479.91 407.09,479.26 408.90,478.61 410.72,477.96 412.53,477.32 414.34,476.67 416.15,476.03 417.96,475.39 419.78,474.75 421.59,474.11 423.40,473.47 425.21,472.83 427.02,472.20 428.84,471.56 430.65,470.93 432.46,470.30 434.27,469.67 436.09,469.04 437.90,468.42 439.71,467.79 441.52,467.17 443.33,466.55 445.15,465.92 446.96,465.31 448.77,464.69 450.58,464.07 452.39,463.46 454.21,462.84 456.02,462.23 457.83,461.62 459.64,461.01 461.46,460.40 463.27,459.80 465.08,459.19 466.89,458.59 468.70,457.99 470.52,457.39 472.33,456.79 474.14,456.19 475.95,455.60 477.76,455.00 479.58,454.41 481.39,453.82 483.20,453.23 485.01,452.64 486.83,452.05 488.64,451.47 490.45,450.88 492.26,450.30 494.07,449.72 495.89,449.14 497.70,448.57 499.51,447.99 501.32,447.42 503.13,446.84 504.95,446.27 506.76,445.70 508.57,445.13 510.38,444.57 512.19,444.00 514.01,443.44 515.82,442.88 517.63,442.32 519.44,441.76 521.26,441.20 523.07,440.65 524.88,440.09 526.69,439.54 528.50,438.99 530.32,438.44 532.13,437.89 533.94,437.35 535.75,436.80 537.56,436.26 539.38,435.72 541.19,435.18 543.00,434.64 544.81,434.11 546.63,433.57 548.44,433.04 550.25,432.51 552.06,431.98 553.87,431.45 555.69,430.93 557.50,430.40 559.31,429.88 561.12,429.36 562.93,428.84 564.75,428.33 566.56,427.81 568.37,427.30 570.18,426.78 572.00,426.27 573.81,425.76 575.62,425.26 577.43,424.75 579.24,424.25 581.06,423.75 582.87,423.24 584.68,422.75 586.49,422.25 588.30,421.75 590.12,421.26 591.93,420.77 593.74,420.28 595.55,419.79 597.37,419.31 599.18,418.82 600.99,418.34 602.80,417.86 604.61,417.38 606.43,416.90 608.24,416.42 610.05,415.95 611.86,415.48 613.67,415.01 615.49,414.54 617.30,414.07 619.11,413.61 620.92,413.14 622.74,412.68 624.55,412.22 626.36,411.77 628.17,411.31 629.98,410.86 631.80,410.40 633.61,409.95 635.42,409.51 637.23,409.06 639.04,408.61 640.86,408.17 642.67,407.73 644.48,407.29 646.29,406.85 648.11,406.42 649.92,405.98 651.73,405.55 653.54,405.12 655.35,404.70 657.17,404.27 658.98,403.84 660.79,403.42 662.60,403.00 664.41,402.58 666.23,402.17 668.04,401.75 669.85,401.34 671.66,400.93 673.47,400.52 675.29,400.11 677.10,399.71 678.91,399.30 680.72,398.90 682.54,398.50 684.35,398.11 686.16,397.71 687.97,397.32 689.78,396.93 691.60,396.54 693.41,396.15 695.22,395.76 697.03,395.38 698.84,395.00 700.66,394.62 702.47,394.24 704.28,393.87 706.09,393.49 707.91,393.12 709.72,392.75 711.53,392.38 713.34,392.02 715.15,391.65 716.97,391.29 718.78,390.93 720.59,390.57 722.40,390.22 724.21,389.86 726.03,389.51 727.84,389.16 729.65,388.82 731.46,388.47 733.28,388.13 735.09,387.79 736.90,387.45 738.71,387.11 740.52,386.77 742.34,386.44 744.15,386.11 745.96,385.78 747.77,385.45 749.58,385.13 751.40,384.81 753.21,384.49 755.02,384.17 756.83,383.85 758.65,383.54 760.46,383.22 762.27,382.91 764.08,382.61 765.89,382.30 767.71,382.00 769.52,381.70 771.33,381.40 773.14,381.10 774.95,380.80 776.77,380.51 778.58,380.22 780.39,379.93 782.20,379.64 784.02,379.36 785.83,379.08 787.64,378.80 789.45,378.52 791.26,378.24 793.08,377.97 794.89,377.70 796.70,377.43" fill="none" shape-rendering="crispEdges" stroke="#ff8000" stroke-width="4.6"/>
<polyline points="363.60,493.81 365.41,493.17 367.22,492.53 369.04,491.89 370.85,491.25 372.66,490.62 374.47,489.98 376.28,489.34 378.10,488.71 379.91,488.08 381.72,487.44 383.53,486.81 385.35,486.18 387.16,485.55 388.97,484.92 390.78,484.29 392.59,483.66 394.41,483.03 396.22,482.40 398.03,481.77 399.84,481.15 401.65,480.52 403.47,479.90 405.28,479.27 407.09,478.65 408.90,478.03 410.72,477.41 412.53,476.79 414.34,476.17 416.15,475.55 417.96,474.93 419.78,474.31 421.59,473.70 423.40,473.08 425.21,472.47 427.02,471.85 428.84,471.24 430.65,470.63 432.46,470.02 434.27,469.41 436.09,468.80 437.90,468.19 439.71,467.59 441.52,466.98 443.33,466.38 445.15,465.77 446.96,465.17 448.77,464.57 450.58,463.97 452.39,463.37 454.21,462.77 456.02,462.17 457.83,461.57 459.64,460.98 461.46,460.38 463.27,459.79 465.08,459.19 466.89,458.60 468.70,458.01 470.52,457.42 472.33,456.84 474.14,456.25 475.95,455.66 477.76,455.08 479.58,454.49 481.39,453.91 483.20,453.33 485.01,452.75 486.83,452.17 488.64,451.59 490.45,451.02 492.26,450.44 494.07,449.87 495.89,449.29 497.70,448.72 499.51,448.15 501.32,447.58 503.13,447.01 504.95,446.45 506.76,445.88 508.57,445.32 510.38,444.75 512.19,444.19 514.01,443.63 515.82,443.07 517.63,442.51 519.44,441.96 521.26,441.40 523.07,440.85 524.88,440.29 526.69,439.74 528.50,439.19 530.32,438.65 532.13,438.10 533.94,437.55 535.75,437.01 537.56,436.47 539.38,435.92 541.19,435.38 543.00,434.85 544.81,434.31 546.63,433.77 548.44,433.24 550.25,432.71 552.06,432.17 553.87,431.64 555.69,431.12 557.50,430.59 559.31,430.06 561.12,429.54 562.93,429.02 564.75,428.50 566.56,427.98 568.37,427.46 570.18,426.94 572.00,426.43 573.81,425.92 575.62,425.41 577.43,424.90 579.24,424.39 581.06,423.88 582.87,423.38 584.68,422.87 586.49,422.37 588.30,421.87 590.12,421.37 591.93,420.88 593.74,420.38 595.55,419.89 597.37,419.40 599.18,418.91 600.99,418.42 602.80,417.93 604.61,417.45 606.43,416.96 608.24,416.48 610.05,416.00 611.86,415.52 613.67,415.05 615.49,414.57 617.30,414.10 619.11,413.63 620.92,413.16 622.74,412.69 624.55,412.23 626.36,411.76 628.17,411.30 629.98,410.84 631.80,410.38 633.61,409.93 635.42,409.47 637.23,409.02 639.04,408.57 640.86,408.12 642.67,407.67 644.48,407.23 646.29,406.78 648.11,406.34 649.92,405.90 651.73,405.47 653.54,405.03 655.35,404.60 657.17,404.17 658.98,403.74 660.79,403.31 662.60,402.88 664.41,402.46 666.23,402.04 668.04,401.62 669.85,401.20 671.66,400.78 673.47,400.37 675.29,399.96 677.10,399.55 678.91,399.14 680.72,398.74 682.54,398.33 684.35,397.93 686.16,397.53 687.97,397.14 689.78,396.74 691.60,396.35 693.41,395.96 695.22,395.57 697.03,395.18 698.84,394.80 700.66,394.42 702.47,394.04 704.28,393.66 706.09,393.28 707.91,392.91 709.72,392.54 711.53,392.17 713.34,391.80 715.15,391.44 716.97,391.08 718.78,390.72 720.59,390.36 722.40,390.00 724.21,389.65 726.03,389.30 727.84,388.95 729.65,388.60 731.46,388.26 733.28,387.92 735.09,387.58 736.90,387.24 738.71,386.91 740.52,386.57 742.34,386.24 744.15,385.92 745.96,385.59 747.77,385.27 749.58,384.95 751.40,384.63 753.21,384.31 755.02,384.00 756.83,383.69 758.65,383.38 760.46,383.07 762.27,382.77 764.08,382.47 765.89,382.17 767.71,381.87 769.52,381.58 771.33,381.29 773.14,381.00 774.95,380.71 776.77,380.43 778.58,380.15 780.39,379.87 782.20,379.59 784.02,379.32 785.83,379.04 787.64,378.78 789.45,378.51 791.26,378.25 793.08,377.98 794.89,377.73 796.70,377.47" fill="none" shape-rendering="crispEdges" stroke="#ff0000" stroke-width="4.6" stroke-dasharray="14.5 4.5 8 5" stroke-dashoffset="23.1"/>
<polyline points="363.60,486.67 365.41,486.30 367.22,485.94 369.04,485.58 370.85,485.21 372.66,484.85 374.47,484.49 376.28,484.13 378.10,483.76 379.91,483.40 381.72,483.04 383.53,482.68 385.35,482.32 387.16,481.95 388.97,481.59 390.78,481.23 392.59,480.87 394.41,480.51 396.22,480.15 398.03,479.79 399.84,479.43 401.65,479.07 403.47,478.71 405.28,478.36 407.09,478.00 408.90,477.64 410.72,477.28 412.53,476.93 414.34,476.57 416.15,476.21 417.96,475.86 419.78,475.50 421.59,475.15 423.40,474.80 425.21,474.44 427.02,474.09 428.84,473.74 430.65,473.38 432.46,473.03 434.27,472.68 436.09,472.33 437.90,471.98 439.71,471.63 441.52,471.29 443.33,470.94 445.15,470.59 446.96,470.25 448.77,469.90 450.58,469.56 452.39,469.21 454.21,468.87 456.02,468.53 457.83,468.19 459.64,467.84 461.46,467.50 463.27,467.16 465.08,466.83 466.89,466.49 468.70,466.15 470.52,465.82 472.33,465.48 474.14,465.15 475.95,464.81 477.76,464.48 479.58,464.15 481.39,463.82 483.20,463.49 485.01,463.16 486.83,462.83 488.64,462.51 490.45,462.18 492.26,461.86 494.07,461.54 495.89,461.22 497.70,460.89 499.51,460.58 501.32,460.26 503.13,459.94 504.95,459.63 506.76,459.31 508.57,459.00 510.38,458.69 512.19,458.38 514.01,458.07 515.82,457.77 517.63,457.46 519.44,457.16 521.26,456.86 523.07,456.56 524.88,456.26 526.69,455.96 528.50,455.67 530.32,455.38 532.13,455.09 533.94,454.80 535.75,454.51 537.56,454.23 539.38,453.94 541.19,453.66 543.00,453.39 544.81,453.11 546.63,452.83 548.44,452.56 550.25,452.29 552.06,452.02 553.87,451.76 555.69,451.50 557.50,451.23 559.31,450.98 561.12,450.72 562.93,450.47 564.75,450.21 566.56,449.96 568.37,449.72 570.18,449.47 572.00,449.23 573.81,448.99 575.62,448.75 577.43,448.52 579.24,448.28 581.06,448.05 582.87,447.82 584.68,447.60 586.49,447.37 588.30,447.15 590.12,446.93 591.93,446.71 593.74,446.50 595.55,446.28 597.37,446.07 599.18,445.86 600.99,445.66 602.80,445.45 604.61,445.25 606.43,445.05 608.24,444.85 610.05,444.65 611.86,444.45 613.67,444.26 615.49,444.07 617.30,443.88 619.11,443.69 620.92,443.51 622.74,443.32 624.55,443.14 626.36,442.96 628.17,442.78 629.98,442.60 631.80,442.43 633.61,442.26 635.42,442.09 637.23,441.92 639.04,441.75 640.86,441.58 642.67,441.42 644.48,441.25 646.29,441.09 648.11,440.93 649.92,440.78 651.73,440.62 653.54,440.47 655.35,440.31 657.17,440.16 658.98,440.01 660.79,439.86 662.60,439.72 664.41,439.57 666.23,439.43 668.04,439.29 669.85,439.14 671.66,439.01 673.47,438.87 675.29,438.73 677.10,438.60 678.91,438.46 680.72,438.33 682.54,438.20 684.35,438.07 686.16,437.94 687.97,437.81 689.78,437.69 691.60,437.56 693.41,437.44 695.22,437.32 697.03,437.20 698.84,437.08 700.66,436.96 702.47,436.84 704.28,436.73 706.09,436.61 707.91,436.50 709.72,436.39 711.53,436.27 713.34,436.16 715.15,436.05 716.97,435.95 718.78,435.84 720.59,435.73 722.40,435.63 724.21,435.52 726.03,435.42 727.84,435.32 729.65,435.22 731.46,435.12 733.28,435.02 735.09,434.92 736.90,434.82 738.71,434.72 740.52,434.63 742.34,434.53 744.15,434.44 745.96,434.35 747.77,434.25 749.58,434.16 751.40,434.07 753.21,433.98 755.02,433.89 756.83,433.80 758.65,433.71 760.46,433.62 762.27,433.54 764.08,433.45 765.89,433.37 767.71,433.28 769.52,433.20 771.33,433.11 773.14,433.03 774.95,432.95 776.77,432.86 778.58,432.78 780.39,432.70 782.20,432.62 784.02,432.54 785.83,432.46 787.64,432.38 789.45,432.30 791.26,432.23 793.08,432.15 794.89,432.07 796.70,431.99" fill="none" shape-rendering="crispEdges" stroke="#00ff00" stroke-width="4.6" stroke-dasharray="15 5.3" stroke-dashoffset="2.2"/>
<polyline points="363.60,490.65 365.41,490.12 367.22,489.59 369.04,489.06 370.85,488.53 372.66,488.00 374.47,487.48 376.28,486.95 378.10,486.43 379.91,485.91 381.72,485.40 383.53,484.88 385.35,484.37 387.16,483.85 388.97,483.34 390.78,482.83 392.59,482.32 394.41,481.82 396.22,481.31 398.03,480.81 399.84,480.31 401.65,479.81 403.47,479.31 405.28,478.81 407.09,478.32 408.90,477.83 410.72,477.34 412.53,476.85 414.34,476.36 416.15,475.87 417.96,475.39 419.78,474.90 421.59,474.42 423.40,473.94 425.21,473.47 427.02,472.99 428.84,472.52 430.65,472.04 432.46,471.57 434.27,471.10 436.09,470.63 437.90,470.17 439.71,469.70 441.52,469.24 443.33,468.78 445.15,468.32 446.96,467.86 448.77,467.41 450.58,466.95 452.39,466.50 454.21,466.05 456.02,465.60 457.83,465.15 459.64,464.71 461.46,464.26 463.27,463.82 465.08,463.38 466.89,462.94 468.70,462.50 470.52,462.07 472.33,461.63 474.14,461.20 475.95,460.77 477.76,460.34 479.58,459.91 481.39,459.49 483.20,459.07 485.01,458.64 486.83,458.22 488.64,457.80 490.45,457.39 492.26,456.97 494.07,456.56 495.89,456.15 497.70,455.74 499.51,455.33 501.32,454.92 503.13,454.52 504.95,454.11 506.76,453.71 508.57,453.31 510.38,452.92 512.19,452.52 514.01,452.12 515.82,451.73 517.63,451.34 519.44,450.95 521.26,450.56 523.07,450.18 524.88,449.79 526.69,449.41 528.50,449.03 530.32,448.65 532.13,448.27 533.94,447.90 535.75,447.52 537.56,447.15 539.38,446.78 541.19,446.41 543.00,446.05 544.81,445.68 546.63,445.32 548.44,444.96 550.25,444.60 552.06,444.24 553.87,443.88 555.69,443.53 557.50,443.17 559.31,442.82 561.12,442.47 562.93,442.12 564.75,441.78 566.56,441.43 568.37,441.09 570.18,440.75 572.00,440.41 573.81,440.07 575.62,439.74 577.43,439.40 579.24,439.07 581.06,438.74 582.87,438.41 584.68,438.09 586.49,437.76 588.30,437.44 590.12,437.12 591.93,436.80 593.74,436.48 595.55,436.16 597.37,435.85 599.18,435.54 600.99,435.22 602.80,434.92 604.61,434.61 606.43,434.30 608.24,434.00 610.05,433.70 611.86,433.40 613.67,433.10 615.49,432.80 617.30,432.51 619.11,432.21 620.92,431.92 622.74,431.63 624.55,431.34 626.36,431.06 628.17,430.77 629.98,430.49 631.80,430.21 633.61,429.93 635.42,429.65 637.23,429.38 639.04,429.10 640.86,428.83 642.67,428.56 644.48,428.29 646.29,428.02 648.11,427.76 649.92,427.50 651.73,427.24 653.54,426.98 655.35,426.72 657.17,426.46 658.98,426.21 660.79,425.96 662.60,425.71 664.41,425.46 666.23,425.21 668.04,424.96 669.85,424.72 671.66,424.48 673.47,424.24 675.29,424.00 677.10,423.76 678.91,423.53 680.72,423.30 682.54,423.07 684.35,422.84 686.16,422.61 687.97,422.39 689.78,422.16 691.60,421.94 693.41,421.72 695.22,421.50 697.03,421.29 698.84,421.07 700.66,420.86 702.47,420.65 704.28,420.44 706.09,420.23 707.91,420.02 709.72,419.82 711.53,419.62 713.34,419.42 715.15,419.22 716.97,419.02 718.78,418.83 720.59,418.64 722.40,418.45 724.21,418.26 726.03,418.07 727.84,417.88 729.65,417.70 731.46,417.52 733.28,417.34 735.09,417.16 736.90,416.98 738.71,416.81 740.52,416.64 742.34,416.46 744.15,416.30 745.96,416.13 747.77,415.96 749.58,415.80 751.40,415.64 753.21,415.48 755.02,415.32 756.83,415.16 758.65,415.01 760.46,414.86 762.27,414.71 764.08,414.56 765.89,414.41 767.71,414.26 769.52,414.12 771.33,413.98 773.14,413.84 774.95,413.70 776.77,413.57 778.58,413.43 780.39,413.30 782.20,413.17 784.02,413.04 785.83,412.91 787.64,412.79 789.45,412.66 791.26,412.54 793.08,412.42 794.89,412.31 796.70,412.19" fill="none" shape-rendering="crispEdges" stroke="#0000ff" stroke-width="4.6"/>
</g></svg>
</body></html>
